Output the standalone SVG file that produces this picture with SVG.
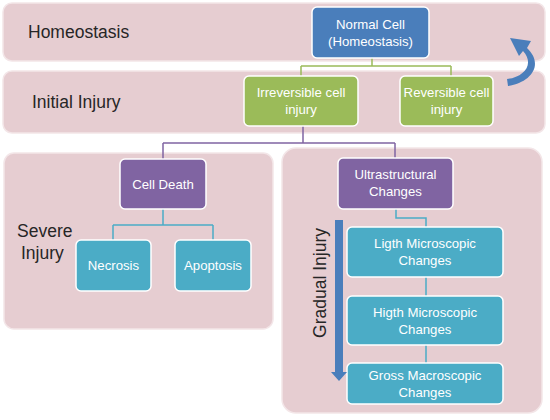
<svg xmlns="http://www.w3.org/2000/svg" width="550" height="420" viewBox="0 0 550 420">
<style>
.band{fill:#e6cdd1;stroke:#f3e6e8;stroke-width:1.5}
.box{stroke:#ffffff;stroke-width:1.5}
.blue{fill:#4a7ebb}
.green{fill:#9bbb59}
.purple{fill:#8064a2}
.teal{fill:#4bacc6}
.t{font-family:"Liberation Sans",Arial,sans-serif;font-size:13.2px;fill:#ffffff;text-anchor:middle}
.lab{font-family:"Liberation Sans",Arial,sans-serif;font-size:17.5px;fill:#262626}
.c{fill:none;stroke-width:1.5}
</style>
<rect width="550" height="420" fill="#ffffff"/>
<g id="bands">
<rect class="band" x="3" y="3" width="542" height="58" rx="9"/>
<rect class="band" x="3" y="71" width="542" height="62" rx="9"/>
<rect class="band" x="4" y="153" width="269" height="176" rx="10"/>
<rect class="band" x="282" y="148" width="260" height="265" rx="14"/>
</g>
<g id="labels">
<text class="lab" x="28" y="38">Homeostasis</text>
<text class="lab" x="32" y="108">Initial Injury</text>
<text class="lab" x="17" y="237">Severe</text>
<text class="lab" x="21" y="259">Injury</text>
<text class="lab" transform="translate(326,283) rotate(-90)" text-anchor="middle">Gradual Injury</text>
</g>
<g id="connectors">
<path class="c" stroke="#9bbb59" d="M372,58 V66 M301,66 H451 M301,66 V76 M451,66 V76"/>
<path class="c" stroke="#8064a2" d="M303,126 V143 M163,143 H395 M163,143 V159 M395,143 V158"/>
<path class="c" stroke="#4bacc6" d="M163,209 V225 M113,225 H213 M113,225 V240 M213,225 V240"/>
<path class="c" stroke="#4bacc6" d="M396,209 V218 H426 V227 M426,277 V296 M426,345 V363"/>
</g>
<g id="normal-cell">
<rect class="box blue" x="312" y="7" width="117" height="51" rx="5"/>
<text class="t" x="370.5" y="29">Normal Cell</text>
<text class="t" x="370.5" y="46">(Homeostasis)</text>
</g>
<g id="irreversible">
<rect class="box green" x="244" y="76" width="114" height="50" rx="5"/>
<text class="t" x="301" y="97">Irreversible cell</text>
<text class="t" x="301" y="114">injury</text>
</g>
<g id="reversible">
<rect class="box green" x="400" y="76" width="93" height="50" rx="5"/>
<text class="t" x="446.5" y="97">Reversible cell</text>
<text class="t" x="446.5" y="114">injury</text>
</g>
<g id="cell-death">
<rect class="box purple" x="120" y="159" width="86" height="50" rx="5"/>
<text class="t" x="163" y="189">Cell Death</text>
</g>
<g id="necrosis">
<rect class="box teal" x="76" y="240" width="75" height="51" rx="5"/>
<text class="t" x="113.5" y="270">Necrosis</text>
</g>
<g id="apoptosis">
<rect class="box teal" x="175" y="240" width="76" height="51" rx="5"/>
<text class="t" x="213" y="270">Apoptosis</text>
</g>
<g id="ultrastructural">
<rect class="box purple" x="338" y="158" width="115" height="51" rx="5"/>
<text class="t" x="395.5" y="179">Ultrastructural</text>
<text class="t" x="395.5" y="196">Changes</text>
</g>
<g id="ligth">
<rect class="box teal" x="347" y="227" width="156" height="50" rx="5"/>
<text class="t" x="425" y="248">Ligth Microscopic</text>
<text class="t" x="425" y="265">Changes</text>
</g>
<g id="higth">
<rect class="box teal" x="347" y="296" width="156" height="49" rx="5"/>
<text class="t" x="425" y="317">Higth Microscopic</text>
<text class="t" x="425" y="334">Changes</text>
</g>
<g id="gross">
<rect class="box teal" x="347" y="363" width="156" height="41" rx="5"/>
<text class="t" x="425" y="380">Gross Macroscopic</text>
<text class="t" x="425" y="397">Changes</text>
</g>
<g id="arrows">
<path fill="#4a7ebb" d="M335,220 H343 V372 H347 L339,381 L331,372 H335 Z"/>
<path fill="#4a7ebb" d="M508,86 C532,82 544,64 527,48 L531,41 L510,38 L519,56 L523,51 C535,64 524,77 507,79 Z"/>
</g>
</svg>
